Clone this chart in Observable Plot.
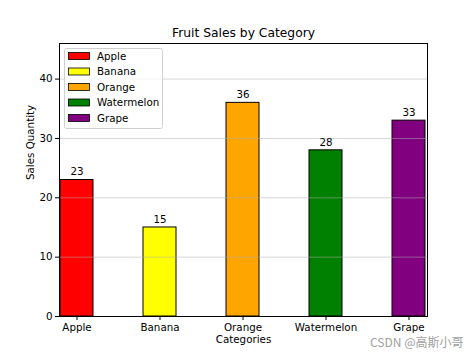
<!DOCTYPE html>
<html>
<head>
<meta charset="utf-8">
<script src="https://cdn.jsdelivr.net/npm/d3@7"></script>
<script src="https://cdn.jsdelivr.net/npm/@observablehq/plot@0.6"></script>
<style>
  html, body { margin: 0; padding: 0; background: white; }
</style>
</head>
<body>
<div id="chart"></div>
<script>
const categories = ["Apple", "Banana", "Orange", "Watermelon", "Grape"];
const sales = [23, 15, 36, 28, 33];
const colors = ["red", "yellow", "orange", "green", "purple"];
const yTicks = [0, 10, 20, 30, 40];
const title = "Fruit Sales by Category";
const xLabel = "Categories";
const yLabel = "Sales Quantity";
const watermark = "CSDN @高斯小哥";

const data = categories.map((c, i) => ({category: c, value: sales[i]}));

const svg = Plot.plot({
  width: 474,
  height: 355,
  marginLeft: 59,
  marginRight: 47,
  marginTop: 43,
  marginBottom: 39,
  style: {fontFamily: "DejaVu Sans", fontSize: "10.3px", background: "white", color: "black"},
  x: {domain: categories, paddingInner: 0.6, paddingOuter: 0, label: null},
  y: {domain: [0, 46], label: null},
  color: {domain: categories, range: colors},
  marks: [
    Plot.barY(data, {x: "category", y: "value", fill: "category", stroke: "black", strokeWidth: 1}),
    Plot.gridY(yTicks, {stroke: "#b0b0b0", strokeOpacity: 0.5, strokeWidth: 1}),
    Plot.frame({stroke: "black", strokeWidth: 1}),
    Plot.axisX({tickSize: 4, tickPadding: 3, label: null, fontSize: 10.3}),
    Plot.axisY({ticks: yTicks, tickSize: 4, tickPadding: 3, label: null, fontSize: 10.3}),
    Plot.text(data, {x: "category", y: "value", text: d => String(d.value), dy: -8, fontSize: 10.3, fill: "black"}),
    Plot.text([title], {frameAnchor: "top", dy: -7, lineAnchor: "bottom", fontSize: 12.3, fill: "black"}),
    Plot.text([xLabel], {frameAnchor: "bottom", dy: 26, fontSize: 10.3, fill: "black"}),
    Plot.text([yLabel], {frameAnchor: "left", dx: -29, rotate: -90, fontSize: 10.3, fill: "black"}),
    Plot.text([watermark], {frameAnchor: "bottom-right", dx: 36, dy: 30, textAnchor: "end", fontSize: 12, fill: "#a0a0a0", fontFamily: "Noto Sans CJK SC"})
  ]
});

// Legend (upper left inside axes)
const lg = d3.select(svg).append("g")
  .attr("font-family", "DejaVu Sans").attr("font-size", "10.3px").attr("text-anchor", "start");
lg.append("rect")
  .attr("x", 64.5).attr("y", 48.5).attr("width", 98).attr("height", 80)
  .attr("rx", 2).attr("fill", "white").attr("fill-opacity", 0.8)
  .attr("stroke", "#d0d0d0").attr("stroke-width", 1);
categories.forEach((c, i) => {
  const cy = 56 + i * 15.5;
  lg.append("rect")
    .attr("x", 68.5).attr("y", cy - 3.5).attr("width", 21).attr("height", 7)
    .attr("fill", colors[i]).attr("stroke", "black").attr("stroke-width", 0.8);
  lg.append("text")
    .attr("x", 97).attr("y", cy).attr("dy", "0.35em").attr("text-anchor", "start")
    .attr("fill", "black").text(c);
});

document.getElementById("chart").appendChild(svg);
</script>
</body>
</html>
